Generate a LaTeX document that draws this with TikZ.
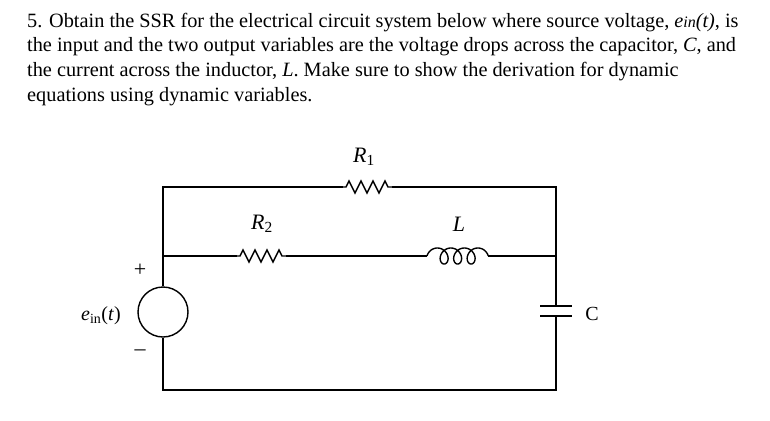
\documentclass[tikz,border=0pt]{standalone}
\usepackage{fontspec}
\setmainfont{Liberation Serif}
\usetikzlibrary{decorations.pathmorphing}
\begin{document}
\begin{tikzpicture}[x=1pt,y=-1pt,
  wire/.style={line width=1.4pt},
  title/.style={anchor=base west,inner sep=0,font=\fontsize{20.3}{23}\selectfont},
  lab/.style={font=\fontsize{22}{24}\selectfont\itshape,inner sep=0},
  res/.style={wire,decorate,decoration={zigzag,segment length=12pt,amplitude=6pt,pre length=3pt,post length=3pt}}]
\useasboundingbox (0,0) rectangle (770,420);
\node[title] (t1) at (27,28) {5. Obtain the SSR for the electrical circuit system below where source voltage, \textit{e{\fontsize{16}{16}\selectfont in}(t)}, is};
\node[title] (t2) at (27,52) {the input and the two output variables are the voltage drops across the capacitor, \textit{C}, and};
\node[title] (t3) at (27,76) {the current across the inductor, \textit{L}. Make sure to show the derivation for dynamic};
\node[title] (t4) at (27,101) {equations using dynamic variables.};
% nodes
\coordinate (tl) at (163,187);
\coordinate (tr) at (556,187);
\coordinate (ml) at (163,256);
\coordinate (mr) at (556,256);
\coordinate (bl) at (163,390);
\coordinate (br) at (556,390);
\coordinate (r1a) at (343,187); \coordinate (r1b) at (392,187);
\coordinate (r2a) at (237,256); \coordinate (r2b) at (286,256);
\coordinate (la) at (427,256); \coordinate (lb) at (488,256);
\coordinate (c1) at (556,306); \coordinate (c2) at (556,316);
\node[circle,draw,line width=1.4pt,minimum size=50pt,inner sep=0] (src) at (163,312) {};
\draw[wire] (src.north) -- (ml) -- (tl) -- (r1a);
\draw[res] (r1a) -- (r1b);
\draw[wire] (r1b) -- (tr) -- (mr) -- (c1);
\draw[wire] (ml) -- (r2a);
\draw[res] (r2a) -- (r2b);
\draw[wire] (r2b) -- (la);
\draw[wire] plot[domain=0:1260,samples=180,smooth] ({434+\x/360*13.5-7*cos(\x)},{256-8*sin(\x)});
\draw[wire] (lb) -- (mr);
\draw[wire] (540,306) -- (572,306);
\draw[wire] (540,316) -- (572,316);
\draw[wire] (c2) -- (br) -- (bl) -- (src.south);
\node[lab] (lr1) at (364,157) {R\textsubscript{\upshape 1}};
\node[lab] (lr2) at (262,224) {R\textsubscript{\upshape 2}};
\node[lab] (ll) at (459,224) {L};
\node[inner sep=0,font=\fontsize{20}{22}\selectfont] (lc) at (592,314) {C};
\node[inner sep=0,font=\fontsize{20}{22}\selectfont\itshape] (le) at (101,316) {e\textsubscript{\upshape in}\upshape(\textit{t})};
\node[inner sep=0,font=\fontsize{22}{22}\selectfont] (plus) at (140,270) {+};
\node[inner sep=0,font=\fontsize{22}{22}\selectfont] (minus) at (140,353) {--};
\end{tikzpicture}
\end{document}
